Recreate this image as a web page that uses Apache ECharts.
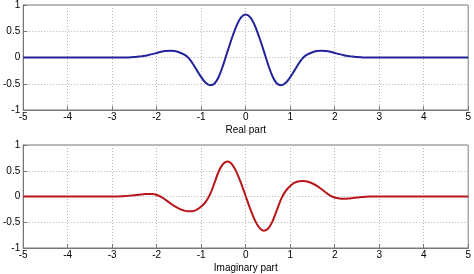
<!DOCTYPE html>
<html>
<head>
<meta charset="utf-8">
<script src="https://cdn.jsdelivr.net/npm/echarts@6/dist/echarts.min.js"></script>
<style>
html,body{margin:0;padding:0;background:#fff;}
#chart{width:474px;height:274px;}
</style>
</head>
<body>
<div id="chart"></div>
<script>
// x sample positions
const xs = [-5, -4, -3.5,
  -3.0, -2.9, -2.8, -2.7, -2.6, -2.5, -2.4, -2.3, -2.2, -2.1,
  -2.0, -1.9, -1.8, -1.7, -1.6, -1.5, -1.4, -1.3, -1.2, -1.1,
  -1.0, -0.9, -0.8, -0.7, -0.6, -0.5, -0.4, -0.3, -0.2, -0.1,
  0.0, 0.1, 0.2, 0.3, 0.4, 0.5, 0.6, 0.7, 0.8, 0.9,
  1.0, 1.1, 1.2, 1.3, 1.4, 1.5, 1.6, 1.7, 1.8, 1.9,
  2.0, 2.1, 2.2, 2.3, 2.4, 2.5, 2.6, 2.7, 2.8, 2.9,
  3.0, 3.5, 4, 5];

// Real part values
const realPart = [0, 0, 0,
  0, 0, 0, 0, 0.003, 0.008, 0.018, 0.028, 0.044, 0.064,
  0.087, 0.11, 0.125, 0.13, 0.122, 0.10, 0.062, 0.005, -0.105, -0.24,
  -0.375, -0.48, -0.528, -0.495, -0.355, -0.125, 0.14, 0.395, 0.617, 0.767,
  0.82, 0.767, 0.617, 0.395, 0.14, -0.125, -0.355, -0.495, -0.528, -0.48,
  -0.375, -0.24, -0.105, 0.005, 0.062, 0.10, 0.122, 0.13, 0.125, 0.11,
  0.087, 0.064, 0.044, 0.028, 0.018, 0.008, 0.003, 0, 0, 0,
  0, 0, 0, 0];

// Imaginary part values
const imagPart = [0, 0, 0,
  0, 0.002, 0.005, 0.01, 0.017, 0.026, 0.036, 0.045, 0.05, 0.047,
  0.03, -0.008, -0.065, -0.128, -0.188, -0.235, -0.268, -0.287, -0.285, -0.255,
  -0.195, -0.105, 0.045, 0.27, 0.5, 0.64, 0.68, 0.615, 0.46, 0.245,
  0.005, -0.235, -0.45, -0.60, -0.665, -0.625, -0.485, -0.265, -0.04, 0.11,
  0.205, 0.268, 0.298, 0.302, 0.285, 0.253, 0.205, 0.145, 0.078, 0.018,
  -0.02, -0.037, -0.044, -0.04, -0.031, -0.021, -0.012, -0.006, -0.002, 0,
  0.002, 0, 0, 0];

const xTicks = { min: -5, max: 5, interval: 1 };
const yTicks = { min: -1, max: 1, interval: 0.5 };
const xTitles = ['Real part', 'Imaginary part'];
const lineColors = ['#22229a', '#b8161b'];

const font = 'Liberation Sans, Arial, sans-serif';

function xAxisFor(i) {
  return {
    type: 'value', gridIndex: i, min: xTicks.min, max: xTicks.max, interval: xTicks.interval,
    name: xTitles[i], nameLocation: 'middle', nameGap: 15,
    nameTextStyle: { color: '#000', fontSize: 10, fontFamily: font },
    axisLine: { onZero: false, lineStyle: { color: '#777', width: 1 } },
    axisTick: { inside: true, length: 4, lineStyle: { color: '#777' } },
    axisLabel: { color: '#000', fontSize: 10, fontFamily: font, margin: 2 },
    splitLine: { show: true, lineStyle: { color: '#b4b4b4', type: [1, 2], width: 1 } }
  };
}
function yAxisFor(i) {
  return {
    type: 'value', gridIndex: i, min: yTicks.min, max: yTicks.max, interval: yTicks.interval,
    axisLine: { show: true, onZero: false, lineStyle: { color: '#777', width: 1 } },
    axisTick: { show: true, inside: true, length: 4, lineStyle: { color: '#777' } },
    axisLabel: { color: '#000', fontSize: 10, fontFamily: font, margin: 3 },
    splitLine: { show: true, lineStyle: { color: '#b4b4b4', type: [1, 2], width: 1 } }
  };
}

const chart = echarts.init(document.getElementById('chart'), null, { renderer: 'canvas' });
chart.setOption({
  animation: false,
  backgroundColor: '#fff',
  grid: [
    { left: 18, right: 5, top: 4, height: 106, show: true, borderColor: '#777', borderWidth: 1 },
    { left: 18, right: 5, top: 145, height: 106, show: true, borderColor: '#777', borderWidth: 1 }
  ],
  xAxis: [xAxisFor(0), xAxisFor(1)],
  yAxis: [yAxisFor(0), yAxisFor(1)],
  series: [
    { type: 'line', xAxisIndex: 0, yAxisIndex: 0, showSymbol: false, smooth: 0.4,
      lineStyle: { color: lineColors[0], width: 2 },
      data: xs.map((x, i) => [x, realPart[i]]) },
    { type: 'line', xAxisIndex: 1, yAxisIndex: 1, showSymbol: false, smooth: 0.4,
      lineStyle: { color: lineColors[1], width: 2 },
      data: xs.map((x, i) => [x, imagPart[i]]) }
  ]
});
</script>
</body>
</html>
